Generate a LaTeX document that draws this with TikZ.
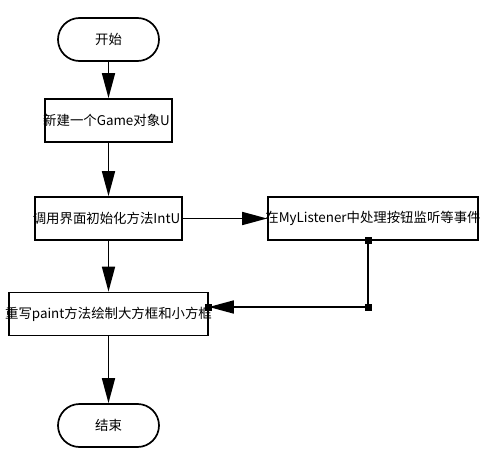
\documentclass[tikz,border=0pt]{standalone}
\usepackage{fontspec}
\setmainfont{Noto Sans CJK SC}
\usetikzlibrary{positioning,arrows.meta}
\newcommand{\nowidth}[1]{\makebox[0pt]{#1}}

\begin{document}
\begin{tikzpicture}[x=1pt,y=-1pt,line width=1.7pt,
		every node/.style={font=\fontsize{13.4}{15}\selectfont},
		term/.style={draw,rounded corners=21.5pt,minimum width=101pt,minimum height=43pt,inner sep=0pt},
		stepbox/.style={draw,minimum height=43pt,inner sep=0pt},
		flow/.style={-{Triangle[length=25pt,width=13pt]}},
		sqmark/.style={fill,minimum size=7pt,inner sep=0pt}
		]
		\useasboundingbox (0,0) rectangle (485,455);
		% main column
		\node[term] (start) at (108.5,39.5) {开始};
		\node[stepbox,minimum width=127pt] (newui) at (108.5,120.5) {\nowidth{新建一个Game对象UI}};
		\node[stepbox,minimum width=147pt] (initui) at (108.5,218.5) {\nowidth{调用界面初始化方法IntUI}};
		\node[stepbox,minimum width=199pt] (paint) at (108.5,314) {\nowidth{重写paint方法绘制大方框和小方框}};
		\node[term] (stop) at (108.5,425.5) {结束};
		% listener box
		\node[stepbox,minimum width=210pt] (listen) at (373,218.5) {\nowidth{在MyListener中处理按钮监听等事件}};
		\coordinate (bend) at (368,307);
		\draw[flow] (start) -- (newui);
		\draw[flow] (newui) -- (initui);
		\draw[flow] (initui) -- (paint);
		\draw[flow] (paint) -- (stop);
		\draw[flow] (initui) -- (listen);
		\draw[flow] (listen.south -| bend) -- (bend) -- (paint.east |- bend);
		\node[sqmark] (m1) at (listen.south -| bend) {};
		\node[sqmark] (m2) at (bend) {};
		\node[sqmark] (m3) at (paint.east |- bend) {};
\end{tikzpicture}
\end{document}
